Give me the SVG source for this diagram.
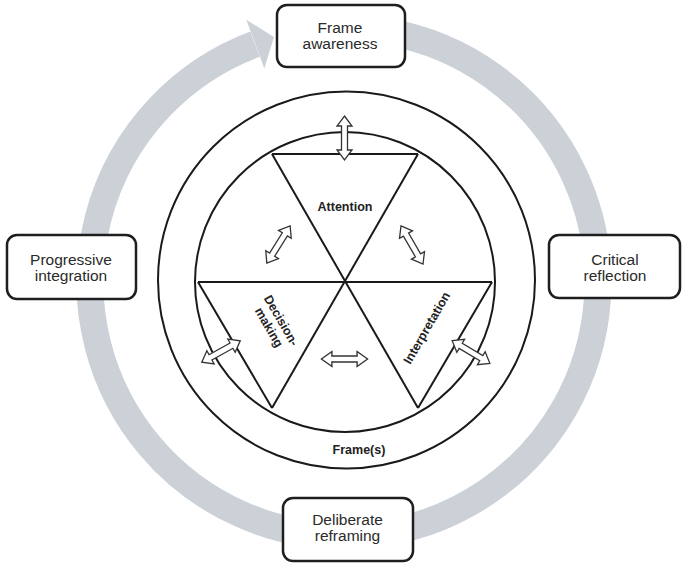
<svg xmlns="http://www.w3.org/2000/svg" width="685" height="567" viewBox="0 0 685 567">
<defs>
<style>
.box{fill:#fff;stroke:#1e1e1e;stroke-width:2.5}
.bt{font-family:"Liberation Sans",Arial,sans-serif;font-size:15.5px;fill:#2a2a2a;text-anchor:middle}
.lbl{font-family:"Liberation Sans",Arial,sans-serif;font-size:12.5px;font-weight:bold;fill:#222;text-anchor:middle}
.ln{fill:none;stroke:#1a1a1a;stroke-width:2}
.dar{fill:#fff;stroke:#333;stroke-width:1.3;stroke-linejoin:miter}
</style>
<path id="dbl" d="M -22 0 L -12 -7.5 L -12 -3 L 12 -3 L 12 -7.5 L 22 0 L 12 7.5 L 12 3 L -12 3 L -12 7.5 Z"/>
</defs>
<rect width="685" height="567" fill="#fff"/>
<g id="cycle">
<path d="M 388.1 31.9 A 254 254 0 1 1 255.05 44.1" fill="none" stroke="#ccd1d8" stroke-width="27"/>
<polygon points="246.3,19.7 264.3,68.5 274,37" fill="#ccd1d8"/>
</g>
<g id="frames">
<circle cx="346.5" cy="280" r="188.5" class="ln"/>
<circle cx="345" cy="282" r="150" class="ln"/>
<text class="lbl" x="359" y="454">Frame(s)</text>
</g>
<g id="hexagon">
<line class="ln" x1="198" y1="282" x2="492" y2="282"/>
<line class="ln" x1="272" y1="154" x2="418" y2="408"/>
<line class="ln" x1="418" y1="154" x2="272" y2="408"/>
<line class="ln" x1="272" y1="154" x2="418" y2="154"/>
<line class="ln" x1="198" y1="282" x2="272" y2="408"/>
<line class="ln" x1="492" y1="282" x2="418" y2="408"/>
</g>
<g id="attention"><text class="lbl" x="345" y="211">Attention</text></g>
<g id="decision-making"><g transform="translate(275 324) rotate(60)">
<text class="lbl" x="0" y="-3">Decision-</text>
<text class="lbl" x="0" y="11">making</text>
</g></g>
<g id="interpretation"><text class="lbl" transform="translate(427 328) rotate(-60)" x="0" y="4">Interpretation</text></g>
<g id="connectors">
<use href="#dbl" class="dar" transform="translate(344.5 138) rotate(90)"/>
<use href="#dbl" class="dar" transform="translate(278.5 244.5) rotate(-58)"/>
<use href="#dbl" class="dar" transform="translate(412 245) rotate(60)"/>
<use href="#dbl" class="dar" transform="translate(344.5 359) scale(1.05 1)"/>
<use href="#dbl" class="dar" transform="translate(221 351.5) rotate(-29)"/>
<use href="#dbl" class="dar" transform="translate(471 352) rotate(31)"/>
</g>
<g id="frame-awareness">
<rect class="box" x="277" y="5" width="128" height="62" rx="10"/>
<text class="bt" x="340" y="33">Frame</text>
<text class="bt" x="340" y="49">awareness</text>
</g>
<g id="critical-reflection">
<rect class="box" x="549" y="235" width="131" height="63" rx="10"/>
<text class="bt" x="615" y="265">Critical</text>
<text class="bt" x="615" y="281">reflection</text>
</g>
<g id="deliberate-reframing">
<rect class="box" x="283" y="498" width="130" height="63" rx="10"/>
<text class="bt" x="347.5" y="525">Deliberate</text>
<text class="bt" x="347.5" y="541">reframing</text>
</g>
<g id="progressive-integration">
<rect class="box" x="7" y="235" width="129" height="64" rx="10"/>
<text class="bt" x="71" y="265">Progressive</text>
<text class="bt" x="71" y="281">integration</text>
</g>
</svg>
